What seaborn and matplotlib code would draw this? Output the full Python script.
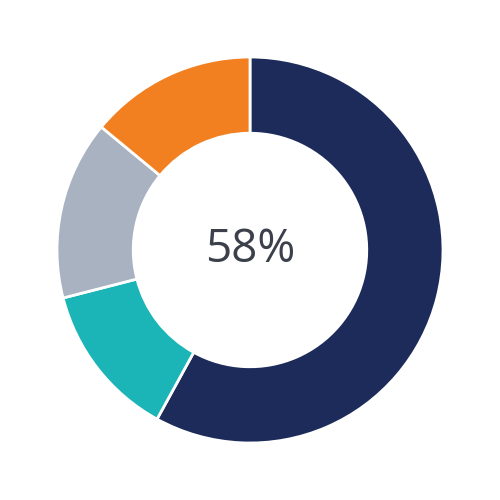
import matplotlib
matplotlib.use("Agg")
import matplotlib.pyplot as plt
import seaborn as sns

# segment shares, clockwise from 12 o'clock
labels = ['Navy', 'Teal', 'Gray', 'Orange']
values = [58, 13, 15, 14]
colors = ['#1c2b59', '#1bb5b7', '#a8b2c1', '#f38020']
center_text = '58%'

sns.set_theme(style='white')
plt.rcParams['font.family'] = ['Open Sans', 'DejaVu Sans']

fig = plt.figure(figsize=(5, 5), dpi=100)
ax = fig.add_axes([0, 0, 1, 1])
ax.pie(values, colors=colors, startangle=90, counterclock=False,
       radius=1.0,
       wedgeprops=dict(width=0.395, edgecolor='white', linewidth=2))
ax.text(0, 0, center_text, ha='center', va='center', fontsize=33, color='#3b404a')
lim = 250 / 193
ax.set_xlim(-lim, lim)
ax.set_ylim(-lim, lim)
ax.set_aspect('equal')
ax.axis('off')
fig.savefig('out.png', dpi=100, facecolor='white')
